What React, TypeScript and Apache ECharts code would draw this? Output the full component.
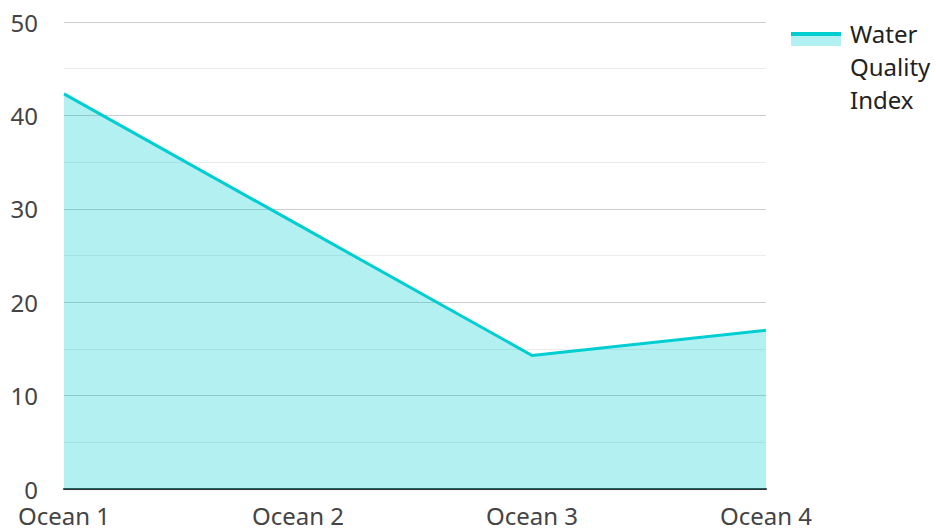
import React, { useEffect, useRef } from "react";
import * as echarts from "echarts";

const categories = ["Ocean 1", "Ocean 2", "Ocean 3", "Ocean 4"];
const waterQuality = [42.3, 28.3, 14.3, 17.0];
const seriesName = "Water Quality Index";
const legendLines = ["Water", "Quality", "Index"];

const LINE = "#00CED1";
const FILL = "rgba(0,206,209,0.3)";
const FONT = "Noto Sans";

export default function App() {
  const ref = useRef<HTMLDivElement>(null);
  useEffect(() => {
    document.body.style.margin = "0";
    const chart = echarts.init(ref.current!, null, { renderer: "svg" });
    chart.setOption({
      animation: false,
      textStyle: { fontFamily: FONT },
      grid: { left: 64, right: 170, top: 22, bottom: 39, containLabel: false },
      xAxis: {
        type: "category",
        data: categories,
        boundaryGap: false,
        axisLine: { show: true, lineStyle: { color: "#333", width: 2 } },
        axisTick: { show: false },
        axisLabel: { color: "#444", fontSize: 24, margin: 14, fontFamily: FONT },
        splitLine: { show: false },
      },
      yAxis: {
        type: "value",
        min: 0,
        max: 50,
        interval: 10,
        axisLine: { show: false },
        axisTick: { show: false },
        axisLabel: { color: "#444", fontSize: 24, margin: 26, fontFamily: FONT },
        splitLine: { show: true, lineStyle: { color: "#cccccc", width: 1 } },
        minorTick: { show: false, splitNumber: 2 },
        minorSplitLine: { show: true, lineStyle: { color: "#ebebeb", width: 1 } },
      },
      series: [
        {
          name: seriesName,
          type: "line",
          data: waterQuality,
          symbol: "none",
          lineStyle: { color: LINE, width: 3 },
          itemStyle: { color: LINE },
          areaStyle: { color: FILL, opacity: 1 },
        },
      ],
      graphic: [
        { type: "rect", left: 791, top: 32, shape: { width: 50, height: 14 }, style: { fill: FILL } },
        { type: "rect", left: 791, top: 32, shape: { width: 50, height: 4 }, style: { fill: LINE } },
        {
          type: "text",
          left: 850,
          top: 17,
          style: {
            text: legendLines.join("\n"),
            fontSize: 24,
            lineHeight: 33,
            fontFamily: FONT,
            fill: "#222",
          },
        },
      ],
    });
    return () => chart.dispose();
  }, []);
  return <div ref={ref} style={{ width: 936, height: 528 }} />;
}
